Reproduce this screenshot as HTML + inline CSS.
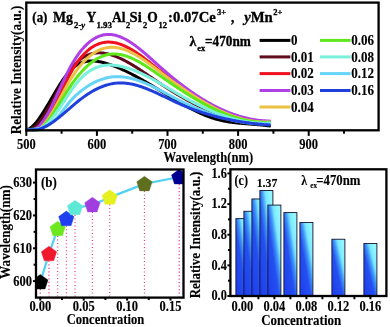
<!DOCTYPE html>
<html><head><meta charset="utf-8"><style>
html,body{margin:0;padding:0;background:#fff;width:390px;height:327px;overflow:hidden}
svg{display:block;will-change:transform}
text{font-family:"Liberation Serif",serif;font-weight:bold;fill:#000;stroke:#000;stroke-width:0.12px} .tt text{stroke-width:0.3px}
</style></head><body>
<svg width="390" height="327" viewBox="0 0 390 327">
<defs>
<clipPath id="clipb"><rect x="36.0" y="169.5" width="147.5" height="128.1"/></clipPath>
<linearGradient id="bh" x1="0" y1="1" x2="1" y2="0">
<stop offset="0" stop-color="#1e3cee"/><stop offset="0.42" stop-color="#2450f0"/><stop offset="0.56" stop-color="#3c90f6"/><stop offset="0.7" stop-color="#7ae8fe"/><stop offset="0.88" stop-color="#92f8ff"/><stop offset="1" stop-color="#8cf0ff"/>
</linearGradient>
</defs>
<rect width="390" height="327" fill="#fff"/>
<path d="M27,129.63 L28.01,129.26 L29.03,128.77 L30.04,128.17 L31.06,127.45 L32.07,126.63 L33.09,125.7 L34.1,124.68 L35.12,123.58 L36.13,122.39 L37.15,121.13 L38.16,119.8 L39.18,118.4 L40.19,116.94 L41.21,115.43 L42.22,113.88 L43.23,112.28 L44.25,110.66 L45.26,109 L46.28,107.32 L47.29,105.62 L48.31,103.9 L49.32,102.17 L50.34,100.44 L51.35,98.7 L52.37,96.96 L53.38,95.23 L54.4,93.5 L55.41,91.79 L56.42,90.09 L57.44,88.41 L58.45,86.75 L59.47,85.13 L60.48,83.53 L61.5,81.97 L62.51,80.45 L63.53,78.97 L64.54,77.54 L65.56,76.15 L66.57,74.83 L67.59,73.56 L68.6,72.35 L69.62,71.21 L70.63,70.15 L71.64,69.15 L72.66,68.22 L73.67,67.35 L74.69,66.55 L75.7,65.82 L76.72,65.14 L77.73,64.52 L78.75,63.96 L79.76,63.46 L80.78,63.01 L81.79,62.6 L82.81,62.25 L83.82,61.94 L84.83,61.68 L85.85,61.46 L86.86,61.29 L87.88,61.15 L88.89,61.05 L89.91,60.98 L90.92,60.95 L91.94,60.94 L92.95,60.97 L93.97,61.02 L94.98,61.1 L96,61.21 L97.01,61.33 L98.03,61.48 L99.04,61.65 L100.05,61.84 L101.07,62.05 L102.08,62.28 L103.1,62.53 L104.11,62.79 L105.13,63.07 L106.14,63.37 L107.16,63.68 L108.17,64 L109.19,64.33 L110.2,64.68 L111.22,65.03 L112.23,65.4 L113.24,65.77 L114.26,66.16 L115.27,66.56 L116.29,66.96 L117.3,67.37 L118.32,67.8 L119.33,68.23 L120.35,68.67 L121.36,69.12 L122.38,69.58 L123.39,70.04 L124.41,70.51 L125.42,70.99 L126.44,71.48 L127.45,71.98 L128.46,72.48 L129.48,72.99 L130.49,73.51 L131.51,74.03 L132.52,74.56 L133.54,75.09 L134.55,75.63 L135.57,76.18 L136.58,76.73 L137.6,77.29 L138.61,77.85 L139.63,78.42 L140.64,78.99 L141.65,79.56 L142.67,80.14 L143.68,80.73 L144.7,81.32 L145.71,81.91 L146.73,82.5 L147.74,83.1 L148.76,83.7 L149.77,84.31 L150.79,84.91 L151.8,85.52 L152.82,86.14 L153.83,86.75 L154.85,87.36 L155.86,87.98 L156.87,88.6 L157.89,89.22 L158.9,89.84 L159.92,90.46 L160.93,91.09 L161.95,91.71 L162.96,92.33 L163.98,92.95 L164.99,93.58 L166.01,94.2 L167.02,94.82 L168.04,95.44 L169.05,96.06 L170.06,96.68 L171.08,97.3 L172.09,97.91 L173.11,98.52 L174.12,99.13 L175.14,99.74 L176.15,100.34 L177.17,100.94 L178.18,101.54 L179.2,102.14 L180.21,102.73 L181.23,103.31 L182.24,103.89 L183.26,104.47 L184.27,105.04 L185.28,105.61 L186.3,106.17 L187.31,106.73 L188.33,107.28 L189.34,107.82 L190.36,108.36 L191.37,108.89 L192.39,109.41 L193.4,109.93 L194.42,110.44 L195.43,110.94 L196.45,111.44 L197.46,111.92 L198.47,112.4 L199.49,112.87 L200.5,113.33 L201.52,113.79 L202.53,114.23 L203.55,114.66 L204.56,115.09 L205.58,115.5 L206.59,115.9 L207.61,116.3 L208.62,116.68 L209.64,117.05 L210.65,117.41 L211.67,117.76 L212.68,118.09 L213.69,118.42 L214.71,118.73 L215.72,119.03 L216.74,119.32 L217.75,119.6 L218.77,119.86 L219.78,120.11 L220.8,120.35 L221.81,120.58 L222.83,120.8 L223.84,121.01 L224.86,121.21 L225.87,121.4 L226.88,121.58 L227.9,121.75 L228.91,121.91 L229.93,122.07 L230.94,122.22 L231.96,122.36 L232.97,122.49 L233.99,122.62 L235,122.74 L236.02,122.86 L237.03,122.97 L238.05,123.07 L239.06,123.18 L240.08,123.27 L241.09,123.37 L242.1,123.46 L243.12,123.54 L244.13,123.63 L245.15,123.71 L246.16,123.79 L247.18,123.87 L248.19,123.95 L249.21,124.02 L250.22,124.1 L251.24,124.18 L252.25,124.26 L253.27,124.33 L254.28,124.41 L255.29,124.49 L256.31,124.58 L257.32,124.66 L258.34,124.75 L259.35,124.84 L260.37,124.93 L261.38,125.03 L262.4,125.13 L263.41,125.24 L264.43,125.35 L265.44,125.47 L266.46,125.59 L267.47,125.72 L268.49,125.86 L269.5,126" fill="none" stroke="#000000" stroke-width="3" stroke-linecap="round" stroke-linejoin="round"/>
<path d="M27,129.65 L28.01,129.74 L29.03,129.68 L30.04,129.48 L31.06,129.15 L32.07,128.68 L33.09,128.08 L34.1,127.37 L35.12,126.54 L36.13,125.6 L37.15,124.56 L38.16,123.43 L39.18,122.2 L40.19,120.89 L41.21,119.5 L42.22,118.05 L43.23,116.52 L44.25,114.94 L45.26,113.3 L46.28,111.61 L47.29,109.88 L48.31,108.12 L49.32,106.33 L50.34,104.51 L51.35,102.66 L52.37,100.81 L53.38,98.94 L54.4,97.06 L55.41,95.18 L56.42,93.3 L57.44,91.42 L58.45,89.56 L59.47,87.71 L60.48,85.88 L61.5,84.07 L62.51,82.29 L63.53,80.55 L64.54,78.84 L65.56,77.17 L66.57,75.55 L67.59,73.98 L68.6,72.46 L69.62,71.01 L70.63,69.62 L71.64,68.29 L72.66,67.03 L73.67,65.83 L74.69,64.69 L75.7,63.61 L76.72,62.59 L77.73,61.63 L78.75,60.73 L79.76,59.88 L80.78,59.09 L81.79,58.35 L82.81,57.66 L83.82,57.02 L84.83,56.44 L85.85,55.9 L86.86,55.41 L87.88,54.97 L88.89,54.57 L89.91,54.21 L90.92,53.9 L91.94,53.63 L92.95,53.41 L93.97,53.22 L94.98,53.07 L96,52.95 L97.01,52.88 L98.03,52.83 L99.04,52.82 L100.05,52.85 L101.07,52.9 L102.08,52.99 L103.1,53.1 L104.11,53.24 L105.13,53.41 L106.14,53.6 L107.16,53.82 L108.17,54.06 L109.19,54.33 L110.2,54.61 L111.22,54.91 L112.23,55.24 L113.24,55.58 L114.26,55.94 L115.27,56.32 L116.29,56.71 L117.3,57.12 L118.32,57.55 L119.33,58 L120.35,58.46 L121.36,58.93 L122.38,59.42 L123.39,59.93 L124.41,60.44 L125.42,60.97 L126.44,61.52 L127.45,62.07 L128.46,62.64 L129.48,63.22 L130.49,63.81 L131.51,64.4 L132.52,65.01 L133.54,65.63 L134.55,66.26 L135.57,66.89 L136.58,67.53 L137.6,68.18 L138.61,68.84 L139.63,69.5 L140.64,70.17 L141.65,70.85 L142.67,71.52 L143.68,72.21 L144.7,72.9 L145.71,73.59 L146.73,74.28 L147.74,74.98 L148.76,75.68 L149.77,76.38 L150.79,77.08 L151.8,77.78 L152.82,78.48 L153.83,79.18 L154.85,79.88 L155.86,80.58 L156.87,81.28 L157.89,81.97 L158.9,82.67 L159.92,83.36 L160.93,84.04 L161.95,84.72 L162.96,85.4 L163.98,86.07 L164.99,86.74 L166.01,87.4 L167.02,88.06 L168.04,88.71 L169.05,89.36 L170.06,90 L171.08,90.64 L172.09,91.27 L173.11,91.9 L174.12,92.52 L175.14,93.14 L176.15,93.75 L177.17,94.36 L178.18,94.96 L179.2,95.56 L180.21,96.15 L181.23,96.73 L182.24,97.31 L183.26,97.89 L184.27,98.46 L185.28,99.02 L186.3,99.58 L187.31,100.14 L188.33,100.68 L189.34,101.23 L190.36,101.76 L191.37,102.29 L192.39,102.82 L193.4,103.34 L194.42,103.85 L195.43,104.36 L196.45,104.86 L197.46,105.36 L198.47,105.85 L199.49,106.33 L200.5,106.81 L201.52,107.28 L202.53,107.75 L203.55,108.21 L204.56,108.66 L205.58,109.11 L206.59,109.55 L207.61,109.99 L208.62,110.42 L209.64,110.84 L210.65,111.26 L211.67,111.67 L212.68,112.07 L213.69,112.47 L214.71,112.86 L215.72,113.25 L216.74,113.63 L217.75,114 L218.77,114.36 L219.78,114.72 L220.8,115.07 L221.81,115.42 L222.83,115.76 L223.84,116.09 L224.86,116.42 L225.87,116.73 L226.88,117.05 L227.9,117.35 L228.91,117.65 L229.93,117.94 L230.94,118.22 L231.96,118.5 L232.97,118.77 L233.99,119.03 L235,119.29 L236.02,119.53 L237.03,119.78 L238.05,120.01 L239.06,120.24 L240.08,120.46 L241.09,120.67 L242.1,120.87 L243.12,121.07 L244.13,121.26 L245.15,121.44 L246.16,121.62 L247.18,121.78 L248.19,121.94 L249.21,122.1 L250.22,122.24 L251.24,122.38 L252.25,122.51 L253.27,122.63 L254.28,122.74 L255.29,122.85 L256.31,122.95 L257.32,123.04 L258.34,123.12 L259.35,123.19 L260.37,123.26 L261.38,123.32 L262.4,123.37 L263.41,123.41 L264.43,123.44 L265.44,123.47 L266.46,123.49 L267.47,123.5 L268.49,123.5 L269.5,123.49" fill="none" stroke="#5e0c1c" stroke-width="3" stroke-linecap="round" stroke-linejoin="round"/>
<path d="M27,129.6 L28.01,129.8 L29.03,129.8 L30.04,129.8 L31.06,129.8 L32.07,129.8 L33.09,129.8 L34.1,129.68 L35.12,129.37 L36.13,128.98 L37.15,128.51 L38.16,127.95 L39.18,127.31 L40.19,126.58 L41.21,125.76 L42.22,124.86 L43.23,123.87 L44.25,122.78 L45.26,121.61 L46.28,120.34 L47.29,118.99 L48.31,117.54 L49.32,115.99 L50.34,114.35 L51.35,112.61 L52.37,110.78 L53.38,108.85 L54.4,106.82 L55.41,104.72 L56.42,102.56 L57.44,100.37 L58.45,98.16 L59.47,95.96 L60.48,93.75 L61.5,91.55 L62.51,89.36 L63.53,87.2 L64.54,85.05 L65.56,82.94 L66.57,80.87 L67.59,78.84 L68.6,76.85 L69.62,74.93 L70.63,73.06 L71.64,71.26 L72.66,69.52 L73.67,67.84 L74.69,66.22 L75.7,64.67 L76.72,63.17 L77.73,61.73 L78.75,60.35 L79.76,59.02 L80.78,57.76 L81.79,56.55 L82.81,55.39 L83.82,54.29 L84.83,53.24 L85.85,52.24 L86.86,51.3 L87.88,50.4 L88.89,49.56 L89.91,48.77 L90.92,48.02 L91.94,47.33 L92.95,46.68 L93.97,46.07 L94.98,45.52 L96,45 L97.01,44.54 L98.03,44.11 L99.04,43.73 L100.05,43.39 L101.07,43.09 L102.08,42.83 L103.1,42.62 L104.11,42.44 L105.13,42.3 L106.14,42.19 L107.16,42.12 L108.17,42.09 L109.19,42.1 L110.2,42.13 L111.22,42.2 L112.23,42.31 L113.24,42.45 L114.26,42.61 L115.27,42.81 L116.29,43.04 L117.3,43.3 L118.32,43.58 L119.33,43.9 L120.35,44.24 L121.36,44.6 L122.38,45 L123.39,45.41 L124.41,45.85 L125.42,46.32 L126.44,46.8 L127.45,47.31 L128.46,47.84 L129.48,48.39 L130.49,48.96 L131.51,49.55 L132.52,50.15 L133.54,50.78 L134.55,51.42 L135.57,52.07 L136.58,52.75 L137.6,53.43 L138.61,54.13 L139.63,54.84 L140.64,55.57 L141.65,56.3 L142.67,57.05 L143.68,57.81 L144.7,58.58 L145.71,59.35 L146.73,60.13 L147.74,60.92 L148.76,61.72 L149.77,62.52 L150.79,63.33 L151.8,64.14 L152.82,64.95 L153.83,65.77 L154.85,66.59 L155.86,67.41 L156.87,68.23 L157.89,69.05 L158.9,69.87 L159.92,70.68 L160.93,71.5 L161.95,72.31 L162.96,73.12 L163.98,73.92 L164.99,74.72 L166.01,75.52 L167.02,76.31 L168.04,77.09 L169.05,77.88 L170.06,78.65 L171.08,79.43 L172.09,80.2 L173.11,80.96 L174.12,81.72 L175.14,82.47 L176.15,83.22 L177.17,83.97 L178.18,84.71 L179.2,85.44 L180.21,86.17 L181.23,86.89 L182.24,87.61 L183.26,88.32 L184.27,89.03 L185.28,89.73 L186.3,90.43 L187.31,91.12 L188.33,91.8 L189.34,92.48 L190.36,93.16 L191.37,93.82 L192.39,94.48 L193.4,95.14 L194.42,95.79 L195.43,96.43 L196.45,97.07 L197.46,97.69 L198.47,98.32 L199.49,98.93 L200.5,99.54 L201.52,100.15 L202.53,100.74 L203.55,101.33 L204.56,101.91 L205.58,102.49 L206.59,103.06 L207.61,103.62 L208.62,104.17 L209.64,104.72 L210.65,105.26 L211.67,105.79 L212.68,106.32 L213.69,106.83 L214.71,107.34 L215.72,107.84 L216.74,108.34 L217.75,108.82 L218.77,109.3 L219.78,109.77 L220.8,110.23 L221.81,110.69 L222.83,111.13 L223.84,111.57 L224.86,112 L225.87,112.42 L226.88,112.83 L227.9,113.23 L228.91,113.63 L229.93,114.01 L230.94,114.39 L231.96,114.76 L232.97,115.12 L233.99,115.47 L235,115.81 L236.02,116.14 L237.03,116.46 L238.05,116.78 L239.06,117.08 L240.08,117.38 L241.09,117.66 L242.1,117.94 L243.12,118.2 L244.13,118.46 L245.15,118.71 L246.16,118.94 L247.18,119.17 L248.19,119.38 L249.21,119.59 L250.22,119.79 L251.24,119.97 L252.25,120.15 L253.27,120.32 L254.28,120.47 L255.29,120.61 L256.31,120.75 L257.32,120.87 L258.34,120.98 L259.35,121.09 L260.37,121.18 L261.38,121.26 L262.4,121.33 L263.41,121.38 L264.43,121.43 L265.44,121.47 L266.46,121.49 L267.47,121.5 L268.49,121.5 L269.5,121.49" fill="none" stroke="#f01020" stroke-width="3" stroke-linecap="round" stroke-linejoin="round"/>
<path d="M27,129.59 L28.01,129.8 L29.03,129.8 L30.04,129.8 L31.06,129.8 L32.07,129.8 L33.09,129.8 L34.1,129.71 L35.12,129.2 L36.13,128.57 L37.15,127.82 L38.16,126.96 L39.18,125.98 L40.19,124.9 L41.21,123.72 L42.22,122.44 L43.23,121.06 L44.25,119.6 L45.26,118.04 L46.28,116.4 L47.29,114.68 L48.31,112.88 L49.32,111.01 L50.34,109.07 L51.35,107.06 L52.37,104.99 L53.38,102.87 L54.4,100.71 L55.41,98.51 L56.42,96.29 L57.44,94.04 L58.45,91.79 L59.47,89.54 L60.48,87.29 L61.5,85.06 L62.51,82.85 L63.53,80.67 L64.54,78.52 L65.56,76.41 L66.57,74.34 L67.59,72.32 L68.6,70.34 L69.62,68.42 L70.63,66.56 L71.64,64.75 L72.66,63 L73.67,61.31 L74.69,59.68 L75.7,58.1 L76.72,56.58 L77.73,55.12 L78.75,53.71 L79.76,52.35 L80.78,51.05 L81.79,49.8 L82.81,48.61 L83.82,47.47 L84.83,46.37 L85.85,45.34 L86.86,44.35 L87.88,43.41 L88.89,42.52 L89.91,41.68 L90.92,40.89 L91.94,40.15 L92.95,39.46 L93.97,38.81 L94.98,38.21 L96,37.66 L97.01,37.15 L98.03,36.69 L99.04,36.27 L100.05,35.9 L101.07,35.57 L102.08,35.28 L103.1,35.04 L104.11,34.84 L105.13,34.68 L106.14,34.56 L107.16,34.48 L108.17,34.45 L109.19,34.45 L110.2,34.49 L111.22,34.57 L112.23,34.69 L113.24,34.85 L114.26,35.04 L115.27,35.26 L116.29,35.53 L117.3,35.82 L118.32,36.15 L119.33,36.51 L120.35,36.9 L121.36,37.31 L122.38,37.76 L123.39,38.24 L124.41,38.74 L125.42,39.27 L126.44,39.83 L127.45,40.41 L128.46,41.02 L129.48,41.64 L130.49,42.29 L131.51,42.96 L132.52,43.65 L133.54,44.36 L134.55,45.09 L135.57,45.84 L136.58,46.6 L137.6,47.38 L138.61,48.18 L139.63,48.98 L140.64,49.81 L141.65,50.64 L142.67,51.49 L143.68,52.34 L144.7,53.21 L145.71,54.08 L146.73,54.97 L147.74,55.86 L148.76,56.75 L149.77,57.66 L150.79,58.56 L151.8,59.47 L152.82,60.39 L153.83,61.3 L154.85,62.22 L155.86,63.13 L156.87,64.05 L157.89,64.96 L158.9,65.88 L159.92,66.78 L160.93,67.69 L161.95,68.59 L162.96,69.48 L163.98,70.37 L164.99,71.25 L166.01,72.12 L167.02,72.99 L168.04,73.86 L169.05,74.71 L170.06,75.56 L171.08,76.41 L172.09,77.24 L173.11,78.07 L174.12,78.9 L175.14,79.72 L176.15,80.53 L177.17,81.33 L178.18,82.13 L179.2,82.92 L180.21,83.71 L181.23,84.49 L182.24,85.26 L183.26,86.02 L184.27,86.78 L185.28,87.53 L186.3,88.27 L187.31,89.01 L188.33,89.74 L189.34,90.46 L190.36,91.17 L191.37,91.88 L192.39,92.58 L193.4,93.27 L194.42,93.96 L195.43,94.64 L196.45,95.31 L197.46,95.97 L198.47,96.62 L199.49,97.27 L200.5,97.91 L201.52,98.55 L202.53,99.17 L203.55,99.79 L204.56,100.4 L205.58,101 L206.59,101.59 L207.61,102.18 L208.62,102.75 L209.64,103.32 L210.65,103.88 L211.67,104.44 L212.68,104.98 L213.69,105.52 L214.71,106.04 L215.72,106.56 L216.74,107.08 L217.75,107.58 L218.77,108.07 L219.78,108.56 L220.8,109.04 L221.81,109.5 L222.83,109.96 L223.84,110.42 L224.86,110.86 L225.87,111.29 L226.88,111.72 L227.9,112.13 L228.91,112.54 L229.93,112.94 L230.94,113.33 L231.96,113.71 L232.97,114.08 L233.99,114.44 L235,114.79 L236.02,115.14 L237.03,115.47 L238.05,115.8 L239.06,116.11 L240.08,116.42 L241.09,116.71 L242.1,117 L243.12,117.28 L244.13,117.55 L245.15,117.8 L246.16,118.05 L247.18,118.29 L248.19,118.52 L249.21,118.74 L250.22,118.95 L251.24,119.15 L252.25,119.34 L253.27,119.52 L254.28,119.69 L255.29,119.84 L256.31,119.99 L257.32,120.13 L258.34,120.26 L259.35,120.38 L260.37,120.49 L261.38,120.58 L262.4,120.67 L263.41,120.75 L264.43,120.81 L265.44,120.87 L266.46,120.91 L267.47,120.95 L268.49,120.97 L269.5,120.98" fill="none" stroke="#b040e6" stroke-width="3" stroke-linecap="round" stroke-linejoin="round"/>
<path d="M27,129.59 L28.01,129.8 L29.03,129.8 L30.04,129.8 L31.06,129.8 L32.07,129.8 L33.09,129.8 L34.1,129.8 L35.12,129.8 L36.13,129.8 L37.15,129.8 L38.16,129.78 L39.18,129.07 L40.19,128.25 L41.21,127.34 L42.22,126.34 L43.23,125.25 L44.25,124.08 L45.26,122.82 L46.28,121.49 L47.29,120.09 L48.31,118.63 L49.32,117.1 L50.34,115.51 L51.35,113.88 L52.37,112.19 L53.38,110.46 L54.4,108.7 L55.41,106.89 L56.42,105.06 L57.44,103.21 L58.45,101.33 L59.47,99.44 L60.48,97.55 L61.5,95.65 L62.51,93.75 L63.53,91.86 L64.54,89.99 L65.56,88.13 L66.57,86.3 L67.59,84.5 L68.6,82.73 L69.62,81 L70.63,79.32 L71.64,77.69 L72.66,76.1 L73.67,74.56 L74.69,73.06 L75.7,71.61 L76.72,70.21 L77.73,68.85 L78.75,67.54 L79.76,66.27 L80.78,65.04 L81.79,63.86 L82.81,62.73 L83.82,61.63 L84.83,60.58 L85.85,59.57 L86.86,58.61 L87.88,57.69 L88.89,56.8 L89.91,55.96 L90.92,55.17 L91.94,54.41 L92.95,53.69 L93.97,53.01 L94.98,52.38 L96,51.78 L97.01,51.22 L98.03,50.7 L99.04,50.22 L100.05,49.77 L101.07,49.37 L102.08,49 L103.1,48.67 L104.11,48.38 L105.13,48.12 L106.14,47.9 L107.16,47.71 L108.17,47.56 L109.19,47.45 L110.2,47.37 L111.22,47.33 L112.23,47.32 L113.24,47.34 L114.26,47.39 L115.27,47.48 L116.29,47.6 L117.3,47.75 L118.32,47.92 L119.33,48.13 L120.35,48.37 L121.36,48.63 L122.38,48.92 L123.39,49.23 L124.41,49.57 L125.42,49.93 L126.44,50.32 L127.45,50.73 L128.46,51.17 L129.48,51.62 L130.49,52.1 L131.51,52.6 L132.52,53.11 L133.54,53.65 L134.55,54.2 L135.57,54.77 L136.58,55.36 L137.6,55.96 L138.61,56.58 L139.63,57.21 L140.64,57.86 L141.65,58.52 L142.67,59.19 L143.68,59.87 L144.7,60.57 L145.71,61.27 L146.73,61.99 L147.74,62.71 L148.76,63.44 L149.77,64.18 L150.79,64.92 L151.8,65.67 L152.82,66.43 L153.83,67.19 L154.85,67.95 L155.86,68.72 L156.87,69.49 L157.89,70.26 L158.9,71.03 L159.92,71.8 L160.93,72.57 L161.95,73.34 L162.96,74.11 L163.98,74.88 L164.99,75.64 L166.01,76.4 L167.02,77.16 L168.04,77.92 L169.05,78.67 L170.06,79.42 L171.08,80.17 L172.09,80.91 L173.11,81.65 L174.12,82.39 L175.14,83.13 L176.15,83.86 L177.17,84.59 L178.18,85.31 L179.2,86.03 L180.21,86.75 L181.23,87.46 L182.24,88.17 L183.26,88.87 L184.27,89.57 L185.28,90.27 L186.3,90.96 L187.31,91.65 L188.33,92.33 L189.34,93 L190.36,93.68 L191.37,94.34 L192.39,95 L193.4,95.66 L194.42,96.31 L195.43,96.96 L196.45,97.6 L197.46,98.23 L198.47,98.86 L199.49,99.48 L200.5,100.1 L201.52,100.71 L202.53,101.31 L203.55,101.91 L204.56,102.5 L205.58,103.09 L206.59,103.66 L207.61,104.24 L208.62,104.8 L209.64,105.36 L210.65,105.91 L211.67,106.45 L212.68,106.99 L213.69,107.51 L214.71,108.04 L215.72,108.55 L216.74,109.05 L217.75,109.55 L218.77,110.04 L219.78,110.52 L220.8,111 L221.81,111.46 L222.83,111.92 L223.84,112.36 L224.86,112.8 L225.87,113.24 L226.88,113.66 L227.9,114.07 L228.91,114.47 L229.93,114.87 L230.94,115.25 L231.96,115.63 L232.97,116 L233.99,116.35 L235,116.7 L236.02,117.04 L237.03,117.37 L238.05,117.68 L239.06,117.99 L240.08,118.29 L241.09,118.58 L242.1,118.85 L243.12,119.12 L244.13,119.37 L245.15,119.62 L246.16,119.85 L247.18,120.08 L248.19,120.29 L249.21,120.49 L250.22,120.68 L251.24,120.85 L252.25,121.02 L253.27,121.17 L254.28,121.32 L255.29,121.45 L256.31,121.57 L257.32,121.67 L258.34,121.77 L259.35,121.85 L260.37,121.92 L261.38,121.98 L262.4,122.03 L263.41,122.06 L264.43,122.08 L265.44,122.08 L266.46,122.08 L267.47,122.06 L268.49,122.03 L269.5,121.98" fill="none" stroke="#ecc040" stroke-width="3" stroke-linecap="round" stroke-linejoin="round"/>
<path d="M27,129.59 L28.01,129.8 L29.03,129.8 L30.04,129.8 L31.06,129.8 L32.07,129.8 L33.09,129.8 L34.1,129.8 L35.12,129.8 L36.13,129.8 L37.15,129.8 L38.16,129.8 L39.18,129.63 L40.19,128.94 L41.21,128.15 L42.22,127.29 L43.23,126.34 L44.25,125.32 L45.26,124.22 L46.28,123.06 L47.29,121.84 L48.31,120.56 L49.32,119.22 L50.34,117.83 L51.35,116.4 L52.37,114.92 L53.38,113.4 L54.4,111.85 L55.41,110.27 L56.42,108.67 L57.44,107.04 L58.45,105.4 L59.47,103.74 L60.48,102.07 L61.5,100.4 L62.51,98.73 L63.53,97.06 L64.54,95.4 L65.56,93.76 L66.57,92.13 L67.59,90.52 L68.6,88.94 L69.62,87.38 L70.63,85.87 L71.64,84.38 L72.66,82.93 L73.67,81.52 L74.69,80.15 L75.7,78.8 L76.72,77.5 L77.73,76.23 L78.75,75 L79.76,73.8 L80.78,72.63 L81.79,71.51 L82.81,70.41 L83.82,69.36 L84.83,68.34 L85.85,67.35 L86.86,66.4 L87.88,65.48 L88.89,64.6 L89.91,63.76 L90.92,62.95 L91.94,62.17 L92.95,61.43 L93.97,60.73 L94.98,60.06 L96,59.43 L97.01,58.83 L98.03,58.27 L99.04,57.74 L100.05,57.24 L101.07,56.78 L102.08,56.36 L103.1,55.97 L104.11,55.62 L105.13,55.3 L106.14,55.02 L107.16,54.77 L108.17,54.55 L109.19,54.37 L110.2,54.23 L111.22,54.12 L112.23,54.04 L113.24,54 L114.26,53.99 L115.27,54.01 L116.29,54.07 L117.3,54.15 L118.32,54.26 L119.33,54.4 L120.35,54.57 L121.36,54.77 L122.38,54.99 L123.39,55.24 L124.41,55.52 L125.42,55.82 L126.44,56.15 L127.45,56.49 L128.46,56.86 L129.48,57.25 L130.49,57.67 L131.51,58.1 L132.52,58.55 L133.54,59.03 L134.55,59.52 L135.57,60.02 L136.58,60.55 L137.6,61.09 L138.61,61.65 L139.63,62.22 L140.64,62.8 L141.65,63.4 L142.67,64.01 L143.68,64.63 L144.7,65.27 L145.71,65.91 L146.73,66.56 L147.74,67.23 L148.76,67.9 L149.77,68.58 L150.79,69.26 L151.8,69.95 L152.82,70.65 L153.83,71.35 L154.85,72.06 L155.86,72.77 L156.87,73.48 L157.89,74.19 L158.9,74.91 L159.92,75.62 L160.93,76.34 L161.95,77.05 L162.96,77.76 L163.98,78.47 L164.99,79.18 L166.01,79.89 L167.02,80.59 L168.04,81.3 L169.05,82 L170.06,82.69 L171.08,83.39 L172.09,84.08 L173.11,84.77 L174.12,85.46 L175.14,86.14 L176.15,86.82 L177.17,87.5 L178.18,88.17 L179.2,88.84 L180.21,89.51 L181.23,90.17 L182.24,90.83 L183.26,91.49 L184.27,92.14 L185.28,92.79 L186.3,93.43 L187.31,94.07 L188.33,94.71 L189.34,95.34 L190.36,95.97 L191.37,96.59 L192.39,97.2 L193.4,97.82 L194.42,98.42 L195.43,99.03 L196.45,99.62 L197.46,100.22 L198.47,100.8 L199.49,101.38 L200.5,101.96 L201.52,102.53 L202.53,103.09 L203.55,103.65 L204.56,104.2 L205.58,104.75 L206.59,105.29 L207.61,105.82 L208.62,106.35 L209.64,106.87 L210.65,107.38 L211.67,107.89 L212.68,108.39 L213.69,108.88 L214.71,109.37 L215.72,109.85 L216.74,110.32 L217.75,110.78 L218.77,111.24 L219.78,111.69 L220.8,112.13 L221.81,112.57 L222.83,112.99 L223.84,113.41 L224.86,113.82 L225.87,114.22 L226.88,114.62 L227.9,115 L228.91,115.38 L229.93,115.75 L230.94,116.11 L231.96,116.46 L232.97,116.8 L233.99,117.13 L235,117.46 L236.02,117.77 L237.03,118.07 L238.05,118.37 L239.06,118.66 L240.08,118.93 L241.09,119.2 L242.1,119.46 L243.12,119.7 L244.13,119.94 L245.15,120.17 L246.16,120.38 L247.18,120.59 L248.19,120.78 L249.21,120.97 L250.22,121.14 L251.24,121.31 L252.25,121.46 L253.27,121.6 L254.28,121.73 L255.29,121.85 L256.31,121.96 L257.32,122.05 L258.34,122.14 L259.35,122.21 L260.37,122.27 L261.38,122.32 L262.4,122.36 L263.41,122.39 L264.43,122.4 L265.44,122.4 L266.46,122.39 L267.47,122.37 L268.49,122.33 L269.5,122.28" fill="none" stroke="#5ee81c" stroke-width="3" stroke-linecap="round" stroke-linejoin="round"/>
<path d="M27,129.6 L28.01,129.8 L29.03,129.8 L30.04,129.8 L31.06,129.8 L32.07,129.8 L33.09,129.8 L34.1,129.8 L35.12,129.8 L36.13,129.8 L37.15,129.8 L38.16,129.6 L39.18,129.18 L40.19,128.69 L41.21,128.13 L42.22,127.51 L43.23,126.83 L44.25,126.08 L45.26,125.28 L46.28,124.41 L47.29,123.48 L48.31,122.49 L49.32,121.45 L50.34,120.35 L51.35,119.2 L52.37,117.99 L53.38,116.72 L54.4,115.41 L55.41,114.06 L56.42,112.67 L57.44,111.24 L58.45,109.79 L59.47,108.3 L60.48,106.8 L61.5,105.28 L62.51,103.75 L63.53,102.2 L64.54,100.66 L65.56,99.11 L66.57,97.56 L67.59,96.02 L68.6,94.5 L69.62,92.98 L70.63,91.49 L71.64,90.02 L72.66,88.58 L73.67,87.17 L74.69,85.79 L75.7,84.46 L76.72,83.17 L77.73,81.92 L78.75,80.73 L79.76,79.59 L80.78,78.5 L81.79,77.46 L82.81,76.47 L83.82,75.52 L84.83,74.63 L85.85,73.78 L86.86,72.98 L87.88,72.22 L88.89,71.51 L89.91,70.84 L90.92,70.21 L91.94,69.62 L92.95,69.08 L93.97,68.57 L94.98,68.1 L96,67.67 L97.01,67.27 L98.03,66.92 L99.04,66.59 L100.05,66.3 L101.07,66.04 L102.08,65.82 L103.1,65.63 L104.11,65.46 L105.13,65.33 L106.14,65.22 L107.16,65.15 L108.17,65.09 L109.19,65.07 L110.2,65.07 L111.22,65.09 L112.23,65.14 L113.24,65.21 L114.26,65.3 L115.27,65.41 L116.29,65.54 L117.3,65.69 L118.32,65.85 L119.33,66.04 L120.35,66.24 L121.36,66.45 L122.38,66.68 L123.39,66.93 L124.41,67.19 L125.42,67.47 L126.44,67.76 L127.45,68.07 L128.46,68.39 L129.48,68.72 L130.49,69.07 L131.51,69.43 L132.52,69.8 L133.54,70.19 L134.55,70.58 L135.57,70.99 L136.58,71.41 L137.6,71.84 L138.61,72.28 L139.63,72.73 L140.64,73.19 L141.65,73.66 L142.67,74.14 L143.68,74.63 L144.7,75.12 L145.71,75.63 L146.73,76.14 L147.74,76.66 L148.76,77.18 L149.77,77.72 L150.79,78.26 L151.8,78.8 L152.82,79.35 L153.83,79.91 L154.85,80.47 L155.86,81.04 L156.87,81.61 L157.89,82.18 L158.9,82.76 L159.92,83.34 L160.93,83.93 L161.95,84.52 L162.96,85.11 L163.98,85.7 L164.99,86.29 L166.01,86.89 L167.02,87.48 L168.04,88.08 L169.05,88.68 L170.06,89.27 L171.08,89.87 L172.09,90.46 L173.11,91.06 L174.12,91.65 L175.14,92.24 L176.15,92.83 L177.17,93.42 L178.18,94 L179.2,94.59 L180.21,95.16 L181.23,95.74 L182.24,96.31 L183.26,96.88 L184.27,97.44 L185.28,98.01 L186.3,98.56 L187.31,99.12 L188.33,99.67 L189.34,100.21 L190.36,100.75 L191.37,101.29 L192.39,101.83 L193.4,102.36 L194.42,102.88 L195.43,103.4 L196.45,103.92 L197.46,104.43 L198.47,104.93 L199.49,105.43 L200.5,105.93 L201.52,106.42 L202.53,106.91 L203.55,107.39 L204.56,107.87 L205.58,108.34 L206.59,108.8 L207.61,109.26 L208.62,109.71 L209.64,110.16 L210.65,110.6 L211.67,111.04 L212.68,111.47 L213.69,111.89 L214.71,112.31 L215.72,112.72 L216.74,113.12 L217.75,113.52 L218.77,113.91 L219.78,114.3 L220.8,114.67 L221.81,115.04 L222.83,115.41 L223.84,115.77 L224.86,116.11 L225.87,116.46 L226.88,116.79 L227.9,117.12 L228.91,117.44 L229.93,117.75 L230.94,118.06 L231.96,118.35 L232.97,118.64 L233.99,118.92 L235,119.2 L236.02,119.46 L237.03,119.72 L238.05,119.96 L239.06,120.2 L240.08,120.43 L241.09,120.66 L242.1,120.87 L243.12,121.07 L244.13,121.27 L245.15,121.46 L246.16,121.63 L247.18,121.8 L248.19,121.96 L249.21,122.11 L250.22,122.25 L251.24,122.38 L252.25,122.5 L253.27,122.62 L254.28,122.72 L255.29,122.81 L256.31,122.89 L257.32,122.96 L258.34,123.02 L259.35,123.07 L260.37,123.11 L261.38,123.14 L262.4,123.16 L263.41,123.17 L264.43,123.17 L265.44,123.16 L266.46,123.13 L267.47,123.1 L268.49,123.05 L269.5,122.99" fill="none" stroke="#78f0dc" stroke-width="3" stroke-linecap="round" stroke-linejoin="round"/>
<path d="M27,129.6 L28.01,129.55 L29.03,129.51 L30.04,129.46 L31.06,129.4 L32.07,129.34 L33.09,129.26 L34.1,129.17 L35.12,129.06 L36.13,128.93 L37.15,128.78 L38.16,128.61 L39.18,128.41 L40.19,128.18 L41.21,127.91 L42.22,127.62 L43.23,127.28 L44.25,126.91 L45.26,126.5 L46.28,126.04 L47.29,125.53 L48.31,124.98 L49.32,124.37 L50.34,123.71 L51.35,122.99 L52.37,122.21 L53.38,121.37 L54.4,120.46 L55.41,119.49 L56.42,118.45 L57.44,117.34 L58.45,116.17 L59.47,114.95 L60.48,113.7 L61.5,112.41 L62.51,111.1 L63.53,109.77 L64.54,108.44 L65.56,107.11 L66.57,105.79 L67.59,104.5 L68.6,103.23 L69.62,102 L70.63,100.82 L71.64,99.69 L72.66,98.6 L73.67,97.57 L74.69,96.57 L75.7,95.61 L76.72,94.68 L77.73,93.79 L78.75,92.91 L79.76,92.06 L80.78,91.24 L81.79,90.43 L82.81,89.65 L83.82,88.9 L84.83,88.16 L85.85,87.45 L86.86,86.77 L87.88,86.1 L88.89,85.46 L89.91,84.85 L90.92,84.25 L91.94,83.68 L92.95,83.13 L93.97,82.6 L94.98,82.1 L96,81.62 L97.01,81.16 L98.03,80.72 L99.04,80.31 L100.05,79.92 L101.07,79.55 L102.08,79.2 L103.1,78.88 L104.11,78.58 L105.13,78.3 L106.14,78.04 L107.16,77.8 L108.17,77.59 L109.19,77.4 L110.2,77.23 L111.22,77.08 L112.23,76.96 L113.24,76.85 L114.26,76.77 L115.27,76.71 L116.29,76.67 L117.3,76.65 L118.32,76.66 L119.33,76.68 L120.35,76.73 L121.36,76.8 L122.38,76.88 L123.39,76.99 L124.41,77.12 L125.42,77.26 L126.44,77.42 L127.45,77.6 L128.46,77.8 L129.48,78.02 L130.49,78.25 L131.51,78.5 L132.52,78.76 L133.54,79.04 L134.55,79.33 L135.57,79.64 L136.58,79.96 L137.6,80.3 L138.61,80.64 L139.63,81.01 L140.64,81.38 L141.65,81.76 L142.67,82.16 L143.68,82.57 L144.7,82.98 L145.71,83.41 L146.73,83.85 L147.74,84.3 L148.76,84.75 L149.77,85.21 L150.79,85.68 L151.8,86.16 L152.82,86.65 L153.83,87.14 L154.85,87.64 L155.86,88.14 L156.87,88.65 L157.89,89.17 L158.9,89.68 L159.92,90.21 L160.93,90.73 L161.95,91.26 L162.96,91.79 L163.98,92.32 L164.99,92.86 L166.01,93.39 L167.02,93.93 L168.04,94.47 L169.05,95.01 L170.06,95.54 L171.08,96.08 L172.09,96.62 L173.11,97.15 L174.12,97.68 L175.14,98.21 L176.15,98.73 L177.17,99.25 L178.18,99.77 L179.2,100.29 L180.21,100.79 L181.23,101.3 L182.24,101.8 L183.26,102.3 L184.27,102.79 L185.28,103.27 L186.3,103.76 L187.31,104.23 L188.33,104.71 L189.34,105.18 L190.36,105.64 L191.37,106.1 L192.39,106.55 L193.4,107 L194.42,107.44 L195.43,107.88 L196.45,108.32 L197.46,108.75 L198.47,109.17 L199.49,109.59 L200.5,110 L201.52,110.41 L202.53,110.82 L203.55,111.22 L204.56,111.61 L205.58,112 L206.59,112.38 L207.61,112.76 L208.62,113.13 L209.64,113.49 L210.65,113.85 L211.67,114.21 L212.68,114.56 L213.69,114.9 L214.71,115.24 L215.72,115.57 L216.74,115.9 L217.75,116.22 L218.77,116.54 L219.78,116.84 L220.8,117.15 L221.81,117.45 L222.83,117.74 L223.84,118.02 L224.86,118.3 L225.87,118.57 L226.88,118.84 L227.9,119.1 L228.91,119.36 L229.93,119.6 L230.94,119.85 L231.96,120.08 L232.97,120.31 L233.99,120.53 L235,120.75 L236.02,120.96 L237.03,121.16 L238.05,121.36 L239.06,121.55 L240.08,121.74 L241.09,121.91 L242.1,122.08 L243.12,122.25 L244.13,122.4 L245.15,122.55 L246.16,122.69 L247.18,122.83 L248.19,122.96 L249.21,123.08 L250.22,123.2 L251.24,123.3 L252.25,123.4 L253.27,123.5 L254.28,123.58 L255.29,123.66 L256.31,123.74 L257.32,123.8 L258.34,123.86 L259.35,123.91 L260.37,123.95 L261.38,123.98 L262.4,124.01 L263.41,124.03 L264.43,124.04 L265.44,124.05 L266.46,124.04 L267.47,124.03 L268.49,124.01 L269.5,123.99" fill="none" stroke="#66d4f6" stroke-width="3" stroke-linecap="round" stroke-linejoin="round"/>
<path d="M27,129.61 L28.01,129.8 L29.03,129.8 L30.04,129.8 L31.06,129.8 L32.07,129.8 L33.09,129.8 L34.1,129.8 L35.12,129.8 L36.13,129.8 L37.15,129.71 L38.16,129.47 L39.18,129.18 L40.19,128.86 L41.21,128.5 L42.22,128.1 L43.23,127.66 L44.25,127.2 L45.26,126.7 L46.28,126.16 L47.29,125.6 L48.31,125.01 L49.32,124.39 L50.34,123.75 L51.35,123.08 L52.37,122.39 L53.38,121.67 L54.4,120.94 L55.41,120.19 L56.42,119.42 L57.44,118.63 L58.45,117.83 L59.47,117.01 L60.48,116.18 L61.5,115.34 L62.51,114.49 L63.53,113.64 L64.54,112.77 L65.56,111.9 L66.57,111.03 L67.59,110.15 L68.6,109.28 L69.62,108.4 L70.63,107.52 L71.64,106.65 L72.66,105.78 L73.67,104.91 L74.69,104.05 L75.7,103.2 L76.72,102.36 L77.73,101.53 L78.75,100.72 L79.76,99.91 L80.78,99.12 L81.79,98.35 L82.81,97.59 L83.82,96.85 L84.83,96.13 L85.85,95.43 L86.86,94.74 L87.88,94.07 L88.89,93.41 L89.91,92.78 L90.92,92.16 L91.94,91.56 L92.95,90.98 L93.97,90.42 L94.98,89.88 L96,89.35 L97.01,88.85 L98.03,88.36 L99.04,87.89 L100.05,87.45 L101.07,87.02 L102.08,86.62 L103.1,86.23 L104.11,85.86 L105.13,85.52 L106.14,85.19 L107.16,84.89 L108.17,84.61 L109.19,84.34 L110.2,84.1 L111.22,83.89 L112.23,83.69 L113.24,83.52 L114.26,83.36 L115.27,83.23 L116.29,83.13 L117.3,83.04 L118.32,82.98 L119.33,82.94 L120.35,82.92 L121.36,82.93 L122.38,82.96 L123.39,83 L124.41,83.07 L125.42,83.16 L126.44,83.27 L127.45,83.4 L128.46,83.54 L129.48,83.7 L130.49,83.88 L131.51,84.08 L132.52,84.3 L133.54,84.53 L134.55,84.77 L135.57,85.03 L136.58,85.31 L137.6,85.6 L138.61,85.9 L139.63,86.22 L140.64,86.55 L141.65,86.89 L142.67,87.25 L143.68,87.61 L144.7,87.99 L145.71,88.37 L146.73,88.77 L147.74,89.17 L148.76,89.58 L149.77,90.01 L150.79,90.44 L151.8,90.87 L152.82,91.32 L153.83,91.77 L154.85,92.22 L155.86,92.68 L156.87,93.15 L157.89,93.62 L158.9,94.1 L159.92,94.58 L160.93,95.06 L161.95,95.54 L162.96,96.03 L163.98,96.51 L164.99,97 L166.01,97.49 L167.02,97.98 L168.04,98.47 L169.05,98.96 L170.06,99.44 L171.08,99.93 L172.09,100.41 L173.11,100.89 L174.12,101.36 L175.14,101.84 L176.15,102.3 L177.17,102.77 L178.18,103.23 L179.2,103.68 L180.21,104.12 L181.23,104.57 L182.24,105 L183.26,105.43 L184.27,105.86 L185.28,106.27 L186.3,106.69 L187.31,107.1 L188.33,107.5 L189.34,107.9 L190.36,108.29 L191.37,108.68 L192.39,109.06 L193.4,109.43 L194.42,109.8 L195.43,110.17 L196.45,110.53 L197.46,110.89 L198.47,111.24 L199.49,111.58 L200.5,111.92 L201.52,112.26 L202.53,112.59 L203.55,112.92 L204.56,113.24 L205.58,113.55 L206.59,113.86 L207.61,114.17 L208.62,114.47 L209.64,114.77 L210.65,115.06 L211.67,115.35 L212.68,115.63 L213.69,115.91 L214.71,116.18 L215.72,116.45 L216.74,116.72 L217.75,116.98 L218.77,117.23 L219.78,117.48 L220.8,117.73 L221.81,117.97 L222.83,118.21 L223.84,118.45 L224.86,118.68 L225.87,118.9 L226.88,119.12 L227.9,119.34 L228.91,119.55 L229.93,119.76 L230.94,119.97 L231.96,120.17 L232.97,120.36 L233.99,120.55 L235,120.74 L236.02,120.93 L237.03,121.11 L238.05,121.29 L239.06,121.46 L240.08,121.63 L241.09,121.79 L242.1,121.95 L243.12,122.11 L244.13,122.27 L245.15,122.42 L246.16,122.56 L247.18,122.71 L248.19,122.85 L249.21,122.98 L250.22,123.12 L251.24,123.24 L252.25,123.37 L253.27,123.49 L254.28,123.61 L255.29,123.73 L256.31,123.84 L257.32,123.95 L258.34,124.05 L259.35,124.16 L260.37,124.26 L261.38,124.35 L262.4,124.44 L263.41,124.53 L264.43,124.62 L265.44,124.7 L266.46,124.79 L267.47,124.86 L268.49,124.94 L269.5,125.01" fill="none" stroke="#2040dc" stroke-width="3" stroke-linecap="round" stroke-linejoin="round"/>
<rect x="26.3" y="2.6" width="352.3" height="127.7" fill="none" stroke="#000" stroke-width="2.3"/>
<line x1="26.3" y1="130.3" x2="26.3" y2="135.9" stroke="#000" stroke-width="2"/>
<text transform="translate(26.3,149.3) scale(1,1.13)" font-size="12.5" text-anchor="middle" >500</text>
<line x1="61.6" y1="130.3" x2="61.6" y2="133.7" stroke="#000" stroke-width="2"/>
<line x1="96.9" y1="130.3" x2="96.9" y2="135.9" stroke="#000" stroke-width="2"/>
<text transform="translate(96.9,149.3) scale(1,1.13)" font-size="12.5" text-anchor="middle" >600</text>
<line x1="132.2" y1="130.3" x2="132.2" y2="133.7" stroke="#000" stroke-width="2"/>
<line x1="167.5" y1="130.3" x2="167.5" y2="135.9" stroke="#000" stroke-width="2"/>
<text transform="translate(167.5,149.3) scale(1,1.13)" font-size="12.5" text-anchor="middle" >700</text>
<line x1="202.8" y1="130.3" x2="202.8" y2="133.7" stroke="#000" stroke-width="2"/>
<line x1="238.1" y1="130.3" x2="238.1" y2="135.9" stroke="#000" stroke-width="2"/>
<text transform="translate(238.1,149.3) scale(1,1.13)" font-size="12.5" text-anchor="middle" >800</text>
<line x1="273.4" y1="130.3" x2="273.4" y2="133.7" stroke="#000" stroke-width="2"/>
<line x1="308.7" y1="130.3" x2="308.7" y2="135.9" stroke="#000" stroke-width="2"/>
<text transform="translate(308.7,149.3) scale(1,1.13)" font-size="12.5" text-anchor="middle" >900</text>
<line x1="344" y1="130.3" x2="344" y2="133.7" stroke="#000" stroke-width="2"/>
<text transform="translate(208.4,162.2) scale(1,1.13)" font-size="12.6" text-anchor="middle" >Wavelength(nm)</text>
<text transform="translate(20.6,70) rotate(-90) scale(1,1.13)" font-size="13.2" text-anchor="middle" >Relative Intensity(a.u.)</text>
<g class="tt">
<text transform="translate(32.3,22.3) scale(1,1.13)" font-size="13.0" >(a)</text>
<text transform="translate(53,22.3) scale(1,1.13)" font-size="13.5"  textLength="19.95" lengthAdjust="spacingAndGlyphs">Mg</text>
<text transform="translate(74.1,28) scale(1,1.02)" font-size="8.5"  textLength="11.1" lengthAdjust="spacingAndGlyphs">2-<tspan font-style="italic">y</tspan></text>
<text transform="translate(86.6,22.3) scale(1,1.13)" font-size="13.5" >Y</text>
<text transform="translate(96.4,28) scale(1,1.02)" font-size="8.5"  textLength="15.6" lengthAdjust="spacingAndGlyphs">1.93</text>
<text transform="translate(112,22.3) scale(1,1.13)" font-size="13.5" >Al</text>
<text transform="translate(126,28) scale(1,1.02)" font-size="8.5" >2</text>
<text transform="translate(129.6,22.3) scale(1,1.13)" font-size="13.5"  textLength="12.2" lengthAdjust="spacingAndGlyphs">Si</text>
<text transform="translate(143.1,28) scale(1,1.02)" font-size="8.5" >2</text>
<text transform="translate(147.2,22.3) scale(1,1.13)" font-size="13.5" >O</text>
<text transform="translate(158.6,28) scale(1,1.02)" font-size="8.5" >12</text>
<text transform="translate(168.1,22.3) scale(1,1.13)" font-size="13.5"  textLength="47.7" lengthAdjust="spacingAndGlyphs">:0.07Ce</text>
<text transform="translate(217,15.2) scale(1,1.02)" font-size="8.5" >3+</text>
<text transform="translate(231,22.3) scale(1,1.13)" font-size="13.5" >,</text>
<text transform="translate(244.2,22.3) scale(1,1.13)" font-size="13.5"  textLength="28.6" lengthAdjust="spacingAndGlyphs"><tspan font-style="italic">y</tspan>Mn</text>
<text transform="translate(273.3,15.2) scale(1,1.02)" font-size="8.5" >2+</text>
<text transform="translate(189.6,45.8) scale(1,1.13)" font-size="13.8" >λ</text>
<text transform="translate(197.3,51.3) scale(1,1.02)" font-size="8.3" >ex</text>
<text transform="translate(205,45.8) scale(1,1.13)" font-size="13.6"  textLength="45.8" lengthAdjust="spacingAndGlyphs">=470nm</text>
</g>
<line x1="259.6" y1="40.4" x2="290.4" y2="40.4" stroke="#000000" stroke-width="3"/>
<text transform="translate(291,45.1) scale(1,1.13)" font-size="13.0" >0</text>
<line x1="259.6" y1="56.9" x2="290.4" y2="56.9" stroke="#5e0c1c" stroke-width="3"/>
<text transform="translate(291,61.6) scale(1,1.13)" font-size="13.0" >0.01</text>
<line x1="259.6" y1="73.6" x2="290.4" y2="73.6" stroke="#f01020" stroke-width="3"/>
<text transform="translate(291,78.3) scale(1,1.13)" font-size="13.0" >0.02</text>
<line x1="259.6" y1="90.5" x2="290.4" y2="90.5" stroke="#b040e6" stroke-width="3"/>
<text transform="translate(291,95.2) scale(1,1.13)" font-size="13.0" >0.03</text>
<line x1="259.6" y1="107.0" x2="290.4" y2="107.0" stroke="#ecc040" stroke-width="3"/>
<text transform="translate(291,111.7) scale(1,1.13)" font-size="13.0" >0.04</text>
<line x1="320" y1="40.4" x2="350.6" y2="40.4" stroke="#5ee81c" stroke-width="3"/>
<text transform="translate(351.3,45.1) scale(1,1.13)" font-size="13.0" >0.06</text>
<line x1="320" y1="56.9" x2="350.6" y2="56.9" stroke="#78f0dc" stroke-width="3"/>
<text transform="translate(351.3,61.6) scale(1,1.13)" font-size="13.0" >0.08</text>
<line x1="320" y1="73.6" x2="350.6" y2="73.6" stroke="#66d4f6" stroke-width="3"/>
<text transform="translate(351.3,78.3) scale(1,1.13)" font-size="13.0" >0.12</text>
<line x1="320" y1="90.5" x2="350.6" y2="90.5" stroke="#2040dc" stroke-width="3"/>
<text transform="translate(351.3,95.2) scale(1,1.13)" font-size="13.0" >0.16</text>
<text transform="translate(10.3,232) rotate(-90) scale(1,1.13)" font-size="13.2" text-anchor="middle" >Wavelength(nm)</text>
<line x1="33" y1="281.1" x2="36.0" y2="281.1" stroke="#000" stroke-width="2"/>
<text transform="translate(32,285.7) scale(1,1.13)" font-size="12.5" text-anchor="end" >600</text>
<line x1="33.6" y1="264.69" x2="36.0" y2="264.69" stroke="#000" stroke-width="2"/>
<line x1="33" y1="248.27" x2="36.0" y2="248.27" stroke="#000" stroke-width="2"/>
<text transform="translate(32,252.87) scale(1,1.13)" font-size="12.5" text-anchor="end" >610</text>
<line x1="33.6" y1="231.86" x2="36.0" y2="231.86" stroke="#000" stroke-width="2"/>
<line x1="33" y1="215.44" x2="36.0" y2="215.44" stroke="#000" stroke-width="2"/>
<text transform="translate(32,220.04) scale(1,1.13)" font-size="12.5" text-anchor="end" >620</text>
<line x1="33.6" y1="199.03" x2="36.0" y2="199.03" stroke="#000" stroke-width="2"/>
<line x1="33" y1="182.61" x2="36.0" y2="182.61" stroke="#000" stroke-width="2"/>
<text transform="translate(32,187.21) scale(1,1.13)" font-size="12.5" text-anchor="end" >630</text>
<line x1="40.3" y1="297.6" x2="40.3" y2="300.6" stroke="#000" stroke-width="2"/>
<text transform="translate(40.3,311.4) scale(1,1.13)" font-size="12.5" text-anchor="middle" >0.00</text>
<line x1="62" y1="297.6" x2="62" y2="300" stroke="#000" stroke-width="2"/>
<line x1="83.7" y1="297.6" x2="83.7" y2="300.6" stroke="#000" stroke-width="2"/>
<text transform="translate(83.7,311.4) scale(1,1.13)" font-size="12.5" text-anchor="middle" >0.05</text>
<line x1="105.4" y1="297.6" x2="105.4" y2="300" stroke="#000" stroke-width="2"/>
<line x1="127.1" y1="297.6" x2="127.1" y2="300.6" stroke="#000" stroke-width="2"/>
<text transform="translate(127.1,311.4) scale(1,1.13)" font-size="12.5" text-anchor="middle" >0.10</text>
<line x1="148.8" y1="297.6" x2="148.8" y2="300" stroke="#000" stroke-width="2"/>
<line x1="170.5" y1="297.6" x2="170.5" y2="300.6" stroke="#000" stroke-width="2"/>
<text transform="translate(170.5,311.4) scale(1,1.13)" font-size="12.5" text-anchor="middle" >0.15</text>
<text transform="translate(105.5,324.4) scale(1,1.13)" font-size="12.6" text-anchor="middle" >Concentration</text>
<g clip-path="url(#clipb)">
<line x1="40.3" y1="282.08" x2="40.3" y2="296.40000000000003" stroke="#e8388c" stroke-width="1.2" stroke-dasharray="1.1 2.4"/>
<line x1="48.98" y1="253.85" x2="48.98" y2="296.40000000000003" stroke="#e8388c" stroke-width="1.2" stroke-dasharray="1.1 2.4"/>
<line x1="57.66" y1="228.9" x2="57.66" y2="296.40000000000003" stroke="#e8388c" stroke-width="1.2" stroke-dasharray="1.1 2.4"/>
<line x1="66.34" y1="218.72" x2="66.34" y2="296.40000000000003" stroke="#e8388c" stroke-width="1.2" stroke-dasharray="1.1 2.4"/>
<line x1="75.02" y1="207.89" x2="75.02" y2="296.40000000000003" stroke="#e8388c" stroke-width="1.2" stroke-dasharray="1.1 2.4"/>
<line x1="92.38" y1="204.93" x2="92.38" y2="296.40000000000003" stroke="#e8388c" stroke-width="1.2" stroke-dasharray="1.1 2.4"/>
<line x1="109.74" y1="197.38" x2="109.74" y2="296.40000000000003" stroke="#e8388c" stroke-width="1.2" stroke-dasharray="1.1 2.4"/>
<line x1="144.46" y1="183.92" x2="144.46" y2="296.40000000000003" stroke="#e8388c" stroke-width="1.2" stroke-dasharray="1.1 2.4"/>
<line x1="179.18" y1="177.03" x2="179.18" y2="296.40000000000003" stroke="#e8388c" stroke-width="1.2" stroke-dasharray="1.1 2.4"/>
<polyline points="40.3,282.08 48.98,253.85 57.66,228.9 66.34,218.72 75.02,207.89 92.38,204.93 109.74,197.38 144.46,183.92 179.18,177.03" fill="none" stroke="#52d2f4" stroke-width="2.2"/>
<polygon points="40.3,274.38 48,279.98 45.06,289.04 35.54,289.04 32.6,279.98" fill="#000000" stroke="#000000" stroke-width="0.6" stroke-opacity="0.6"/>
<polygon points="48.98,246.15 56.68,251.75 53.74,260.8 44.22,260.8 41.28,251.75" fill="#f0182c" stroke="#f0182c" stroke-width="0.6" stroke-opacity="0.6"/>
<polygon points="57.66,221.2 65.36,226.8 62.42,235.85 52.9,235.85 49.96,226.8" fill="#6ee81e" stroke="#6ee81e" stroke-width="0.6" stroke-opacity="0.6"/>
<polygon points="66.34,211.02 74.04,216.62 71.1,225.68 61.58,225.68 58.64,216.62" fill="#1e3ef0" stroke="#1e3ef0" stroke-width="0.6" stroke-opacity="0.6"/>
<polygon points="75.02,200.19 82.72,205.79 79.78,214.84 70.26,214.84 67.32,205.79" fill="#5ee8d6" stroke="#5ee8d6" stroke-width="0.6" stroke-opacity="0.6"/>
<polygon points="92.38,197.23 100.08,202.83 97.14,211.89 87.62,211.89 84.68,202.83" fill="#a03ee0" stroke="#a03ee0" stroke-width="0.6" stroke-opacity="0.6"/>
<polygon points="109.74,189.68 117.44,195.28 114.5,204.34 104.98,204.34 102.04,195.28" fill="#e6f01e" stroke="#e6f01e" stroke-width="0.6" stroke-opacity="0.6"/>
<polygon points="144.46,176.22 152.16,181.82 149.22,190.88 139.7,190.88 136.76,181.82" fill="#5e7020" stroke="#5e7020" stroke-width="0.6" stroke-opacity="0.6"/>
<polygon points="179.18,169.33 186.88,174.93 183.94,183.98 174.42,183.98 171.48,174.93" fill="#000090" stroke="#000090" stroke-width="0.6" stroke-opacity="0.6"/>
</g>
<text transform="translate(41,187.2) scale(1,1.13)" font-size="13" >(b)</text>
<rect x="36.0" y="169.5" width="147.5" height="128.1" fill="none" stroke="#000" stroke-width="2.3"/>
<text transform="translate(199.8,235) rotate(-90) scale(1,1.13)" font-size="13" text-anchor="middle" >Relative Intensity(a.u.)</text>
<line x1="227.4" y1="296" x2="230.4" y2="296" stroke="#000" stroke-width="2"/>
<text transform="translate(226.8,300.3) scale(1,1.13)" font-size="12.3" text-anchor="end" >0.0</text>
<line x1="228" y1="280.68" x2="230.4" y2="280.68" stroke="#000" stroke-width="2"/>
<line x1="227.4" y1="265.36" x2="230.4" y2="265.36" stroke="#000" stroke-width="2"/>
<text transform="translate(226.8,269.66) scale(1,1.13)" font-size="12.3" text-anchor="end" >0.4</text>
<line x1="228" y1="250.04" x2="230.4" y2="250.04" stroke="#000" stroke-width="2"/>
<line x1="227.4" y1="234.72" x2="230.4" y2="234.72" stroke="#000" stroke-width="2"/>
<text transform="translate(226.8,239.02) scale(1,1.13)" font-size="12.3" text-anchor="end" >0.8</text>
<line x1="228" y1="219.4" x2="230.4" y2="219.4" stroke="#000" stroke-width="2"/>
<line x1="227.4" y1="204.08" x2="230.4" y2="204.08" stroke="#000" stroke-width="2"/>
<text transform="translate(226.8,208.38) scale(1,1.13)" font-size="12.3" text-anchor="end" >1.2</text>
<line x1="228" y1="188.76" x2="230.4" y2="188.76" stroke="#000" stroke-width="2"/>
<line x1="227.4" y1="173.44" x2="230.4" y2="173.44" stroke="#000" stroke-width="2"/>
<text transform="translate(226.8,177.74) scale(1,1.13)" font-size="12.3" text-anchor="end" >1.6</text>
<line x1="242.4" y1="296.0" x2="242.4" y2="299.2" stroke="#000" stroke-width="2"/>
<text transform="translate(242.4,310.8) scale(1,1.13)" font-size="12.5" text-anchor="middle" >0.00</text>
<line x1="258.4" y1="296.0" x2="258.4" y2="299.2" stroke="#000" stroke-width="2"/>
<line x1="274.4" y1="296.0" x2="274.4" y2="299.2" stroke="#000" stroke-width="2"/>
<text transform="translate(274.4,310.8) scale(1,1.13)" font-size="12.5" text-anchor="middle" >0.04</text>
<line x1="290.4" y1="296.0" x2="290.4" y2="299.2" stroke="#000" stroke-width="2"/>
<line x1="306.4" y1="296.0" x2="306.4" y2="299.2" stroke="#000" stroke-width="2"/>
<text transform="translate(306.4,310.8) scale(1,1.13)" font-size="12.5" text-anchor="middle" >0.08</text>
<line x1="322.4" y1="296.0" x2="322.4" y2="299.2" stroke="#000" stroke-width="2"/>
<line x1="338.4" y1="296.0" x2="338.4" y2="299.2" stroke="#000" stroke-width="2"/>
<text transform="translate(338.4,310.8) scale(1,1.13)" font-size="12.5" text-anchor="middle" >0.12</text>
<line x1="354.4" y1="296.0" x2="354.4" y2="299.2" stroke="#000" stroke-width="2"/>
<line x1="370.4" y1="296.0" x2="370.4" y2="299.2" stroke="#000" stroke-width="2"/>
<text transform="translate(370.4,310.8) scale(1,1.13)" font-size="12.5" text-anchor="middle" >0.16</text>
<text transform="translate(301.2,324.6) scale(1,1.13)" font-size="12.6" text-anchor="middle"  textLength="80" lengthAdjust="spacingAndGlyphs">Concentration</text>
<rect x="235.9" y="218.63" width="13" height="77.37" fill="url(#bh)" stroke="#141430" stroke-width="0.9"/>
<rect x="243.9" y="211.28" width="13" height="84.72" fill="url(#bh)" stroke="#141430" stroke-width="0.9"/>
<rect x="251.9" y="198.95" width="13" height="97.05" fill="url(#bh)" stroke="#141430" stroke-width="0.9"/>
<rect x="259.9" y="190.52" width="13" height="105.48" fill="url(#bh)" stroke="#141430" stroke-width="0.9"/>
<rect x="267.9" y="205.08" width="13" height="90.92" fill="url(#bh)" stroke="#141430" stroke-width="0.9"/>
<rect x="283.9" y="212.58" width="13" height="83.42" fill="url(#bh)" stroke="#141430" stroke-width="0.9"/>
<rect x="299.9" y="222.54" width="13" height="73.46" fill="url(#bh)" stroke="#141430" stroke-width="0.9"/>
<rect x="331.9" y="239.24" width="13" height="56.76" fill="url(#bh)" stroke="#141430" stroke-width="0.9"/>
<rect x="363.9" y="243.53" width="13" height="52.47" fill="url(#bh)" stroke="#141430" stroke-width="0.9"/>
<text transform="translate(234.6,185.4) scale(1,1.13)" font-size="12" >(c)</text>
<text transform="translate(267,187.4) scale(1,1.13)" font-size="11.8" text-anchor="middle" >1.37</text>
<text transform="translate(301.2,184.8) scale(1,1.13)" font-size="12" >λ</text>
<text transform="translate(310.2,188.4) scale(1,1.13)" font-size="7.2" >ex</text>
<text transform="translate(316.3,184.8) scale(1,1.13)" font-size="12.4"  textLength="44.2" lengthAdjust="spacingAndGlyphs">=470nm</text>
<rect x="230.4" y="169.3" width="156" height="126.7" fill="none" stroke="#000" stroke-width="2.3"/>
</svg>
</body></html>
